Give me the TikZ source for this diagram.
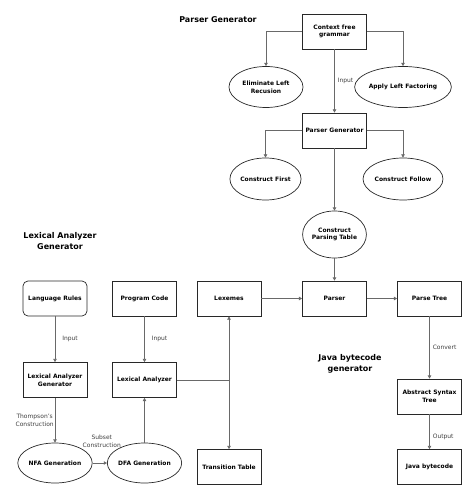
\documentclass[tikz,border=0pt]{standalone}
\usepackage{fontspec}
\setmainfont{DejaVu Sans}
\usetikzlibrary{arrows.meta,positioning,shapes.geometric}
\definecolor{edgegray}{RGB}{105,105,105}
\definecolor{boxgray}{RGB}{40,40,40}
\tikzset{
  stepbox/.style={draw=boxgray,line width=0.7pt,minimum width=64bp,minimum height=35bp,
    align=center,inner sep=2pt,font=\fontsize{6}{7.7}\selectfont\bfseries},
  roundbox/.style={stepbox,rounded corners=5bp},
  stepoval/.style={stepbox,ellipse,minimum width=64bp,minimum height=41bp,inner sep=0pt},
  flow/.style={-{Triangle[length=3.2bp,width=3.4bp]},line width=0.6pt,draw=edgegray},
  boldflow/.style={flow,line width=1.1pt},
  elabel/.style={font=\fontsize{6}{7.7}\selectfont,text=black!75,inner sep=3bp,align=center},
  titlenote/.style={font=\fontsize{8}{11}\selectfont\bfseries,align=center}
}
\begin{document}
\begin{tikzpicture}[x=1bp,y=-1bp]
  \useasboundingbox (0,0) rectangle (474,493);
  \node[titlenote] (ptitle) at (218,20) {Parser Generator};
  \node[stepbox] (cfg) at (334.5,31.5) {Context free\\grammar};
  \node[stepoval,minimum width=74bp] (elim) at (266,87) {Eliminate Left\\Recusion};
  \node[stepoval] (fact) at (403,87) {Apply Left Factoring};
  \node[stepbox] (pgen) at (334.5,130.5) {Parser Generator};
  \node[stepoval,minimum width=63bp,minimum height=42bp] (first) at (265.5,179) {Construct First};
  \node[stepoval,minimum width=63bp,minimum height=42bp] (follow) at (403,179) {Construct Follow};
  \node[stepoval,minimum width=63bp,minimum height=47bp] (ptable) at (334.5,234.5) {Construct\\Parsing Table};
  \node[titlenote] (ltitle) at (60,241.5) {Lexical Analyzer\\Generator};
  \node[roundbox] (rules) at (55,298.5) {Language Rules};
  \node[stepbox] (code) at (144.5,298.5) {Program Code};
  \node[stepbox] (lexemes) at (229,298.5) {Lexemes};
  \node[stepbox] (parser) at (334.5,298.5) {Parser};
  \node[stepbox] (ptree) at (429.5,298.5) {Parse Tree};
  \node[titlenote] (jtitle) at (350,364) {Java bytecode\\generator};
  \node[stepbox] (lagen) at (55,380) {Lexical Analyzer\\Generator};
  \node[stepbox] (lexan) at (144.5,380) {Lexical Analyzer};
  \node[stepbox] (ast) at (429.5,396.5) {Abstract Syntax\\Tree};
  \node[stepoval,minimum height=40bp] (nfa) at (55,463) {NFA Generation};
  \node[stepoval,minimum height=40bp] (dfa) at (144.5,463) {DFA Generation};
  \node[stepbox] (trans) at (229,467) {Transition Table};
  \node[stepbox] (java) at (429.5,467) {Java bytecode};
  \draw[flow] (cfg.west) -| (elim.north);
  \draw[flow] (cfg.east) -| (fact.north);
  \draw[flow] (cfg) -- node[elabel,right] {Input} (pgen);
  \draw[flow] (pgen.west) -| (first.north);
  \draw[flow] (pgen.east) -| (follow.north);
  \draw[flow] (pgen) -- (ptable);
  \draw[flow] (ptable) -- (parser);
  \draw[boldflow] (lexemes) -- (parser);
  \draw[boldflow] (parser) -- (ptree);
  \draw[flow] (ptree) -- node[elabel,right] {Convert} (ast);
  \draw[flow] (ast) -- node[elabel,right,pos=0.65] {Output} (java);
  \draw[flow] (rules) -- node[elabel,right=4bp] {Input} (lagen);
  \draw[flow] (code) -- node[elabel,right=4bp] {Input} (lexan);
  \draw[flow] (lagen) -- node[elabel,left,inner sep=1bp] {Thompson's\\Construction} (nfa);
  \draw[flow] (nfa) -- node[elabel,above=12bp,xshift=2bp] {Subset\\Construction} (dfa);
  \draw[flow] (dfa) -- (lexan);
  \draw[flow] (lexan.east) -| (lexemes.south);
  \draw[flow] (lexan.east) -| (trans.north);
\end{tikzpicture}
\end{document}
